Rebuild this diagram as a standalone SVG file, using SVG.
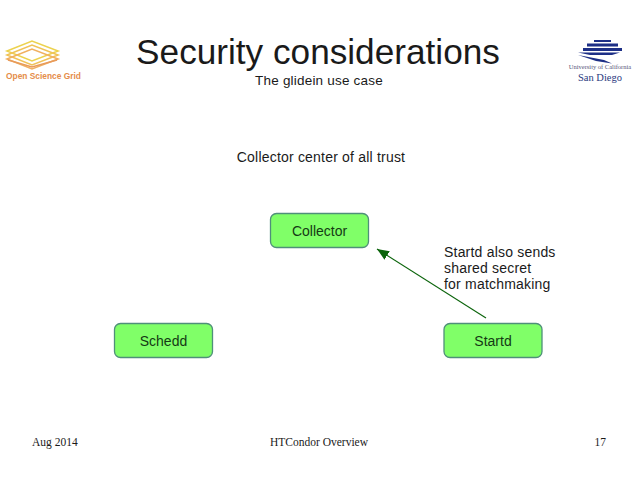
<svg xmlns="http://www.w3.org/2000/svg" width="638" height="479" viewBox="0 0 638 479">
<style>
text{font-family:"Liberation Sans",Arial,sans-serif;fill:#1a1a1a}
.node{fill:#80ff68;stroke:#4f8f7a;stroke-width:1.3}
.lab{font-size:14px;text-anchor:middle;fill:#153a15}
.ann{font-size:14px;letter-spacing:.2px}
.foot{font-family:"Liberation Serif",serif;font-size:11.5px}
.lg{fill:none;stroke-width:1.6}
.sd{fill:#1d2f86}
</style>
<defs><marker id="ah" markerUnits="userSpaceOnUse" markerWidth="14" markerHeight="12" refX="12" refY="5" orient="auto"><path d="M0 0L12 5L0 10Z" fill="#0b640b"/></marker></defs>
<rect width="638" height="479" fill="#fff"/>
<g id="logo-osg">
<path class="lg" stroke="#ecd24f" d="M7 51L32 41L58 51L32 61Z"/>
<path class="lg" stroke="#f0c257" d="M7 55L32 45L58 55L32 65Z"/>
<path class="lg" stroke="#f0b060" d="M7 59L32 49L58 59L32 69Z"/>
<path class="lg" stroke="#e89a5a" d="M8 60L32 67L57 60"/>
<text x="6" y="79" font-size="8.4" font-weight="bold" style="fill:#e58d4a">Open Science Grid</text>
</g>
<g id="logo-ucsd">
<path class="sd" d="M594 40H611V42H594ZM587 43.500H618V46.500H587ZM583 48H622V51H583ZM578 52.500H620L612 55H590ZM578 55L604 60L612 63.500L596 61Z"/>
<text x="600" y="69" font-size="6.5" text-anchor="middle" style="font-family:'Liberation Serif',serif;fill:#55557a">University of California</text>
<text x="600" y="80.500" font-size="10.500" text-anchor="middle" style="font-family:'Liberation Serif',serif;fill:#2b3a80">San Diego</text>
</g>
<g id="title">
<text x="318" y="64" font-size="35.200" text-anchor="middle">Security considerations</text>
<text x="319" y="85" font-size="13.500" text-anchor="middle" letter-spacing=".2">The glidein use case</text>
</g>
<text x="321" y="162" font-size="14" text-anchor="middle" letter-spacing=".2">Collector center of all trust</text>
<g id="connectors"><line x1="486" y1="318" x2="377" y2="249" stroke="#0b640b" stroke-width="1.1" marker-end="url(#ah)"/></g>
<g id="collector"><rect class="node" x="270.500" y="213.500" width="98" height="34" rx="6"/><text class="lab" x="319.500" y="236">Collector</text></g>
<g id="schedd"><rect class="node" x="114.500" y="323.500" width="98" height="34" rx="6"/><text class="lab" x="163.500" y="346">Schedd</text></g>
<g id="startd"><rect class="node" x="444" y="323.500" width="98" height="34" rx="6"/><text class="lab" x="493" y="346">Startd</text></g>
<g id="note"><text class="ann" x="444" y="257">Startd also sends</text><text class="ann" x="444" y="273">shared secret</text><text class="ann" x="444" y="289">for matchmaking</text></g>
<g id="footer"><text class="foot" x="32" y="446">Aug 2014</text><text class="foot" x="319" y="446" text-anchor="middle">HTCondor Overview</text><text class="foot" x="606" y="446" text-anchor="end">17</text></g>
</svg>
